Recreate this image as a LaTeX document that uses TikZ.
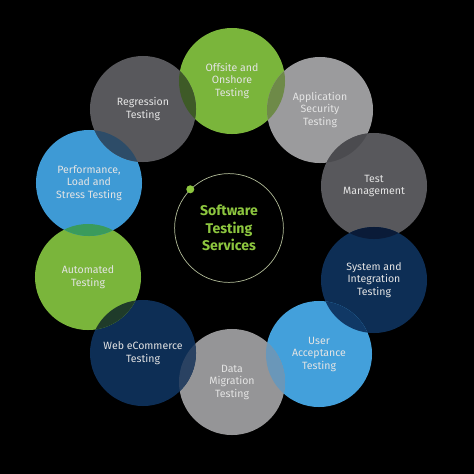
\documentclass[tikz,border=0pt]{standalone}
\usepackage{fontspec}
\setmainfont{Fira Sans}
\usepackage{tikz}
\usepackage{xcolor}

\definecolor{bggreen}{HTML}{7AB53B}
\definecolor{bglight}{HTML}{9B9B9D}
\definecolor{bgmid}{HTML}{959597}
\definecolor{bgdark}{HTML}{58585C}
\definecolor{bgblue}{HTML}{3E9AD5}
\definecolor{bgsky}{HTML}{43A0DB}
\definecolor{bgnavy}{HTML}{0D2E55}
\definecolor{labelgray}{HTML}{E4E4E4}
\definecolor{hubgreen}{HTML}{8DC63F}
\definecolor{hubline}{HTML}{AEB895}
% overlap colours
\definecolor{ovregoff}{HTML}{3E5A27}
\definecolor{ovoffapp}{HTML}{6E8A48}
\definecolor{ovapptm}{HTML}{4B4B4F}
\definecolor{ovtmsys}{HTML}{0A1B38}
\definecolor{ovsysua}{HTML}{103865}
\definecolor{ovuadm}{HTML}{6A97B9}
\definecolor{ovdmweb}{HTML}{2A4262}
\definecolor{ovwebauto}{HTML}{1F3B2A}
\definecolor{ovautoperf}{HTML}{3A9B5C}
\definecolor{ovperfreg}{HTML}{2D4C68}

\begin{document}
\begin{tikzpicture}[x=0.025cm,y=-0.025cm,
    bubble/.style={circle,minimum size=2.65cm,inner sep=0pt,align=center,
      text=labelgray,font=\fontsize{7.5}{8.9}\selectfont}]
        % background
        \fill[black] (0,0) rectangle (474,474);
        % circles
        \node[bubble,fill=bggreen] (off) at (232,81) {Offsite and\\Onshore\\Testing};
        \node[bubble,fill=bglight] (app) at (320,110) {Application\\Security\\Testing};
        \node[bubble,fill=bgdark] (tm) at (374,186) {Test\\Management};
        \node[bubble,fill=bgnavy] (sys) at (374,280) {System and\\Integration\\Testing};
        \node[bubble,fill=bgsky] (ua) at (319,354) {User\\Acceptance\\Testing};
        \node[bubble,fill=bgmid] (dm) at (232,382) {Data\\Migration\\Testing};
        \node[bubble,fill=bgnavy] (web) at (143,353) {Web eCommerce\\Testing};
        \node[bubble,fill=bggreen] (auto) at (88,277) {Automated\\Testing};
        \node[bubble,fill=bgblue] (perf) at (89,183) {Performance,\\Load and\\Stress Testing};
        \node[bubble,fill=bgdark] (reg) at (143,109) {Regression\\Testing};
        % overlaps
        \foreach \a/\b/\c in {reg/off/ovregoff,off/app/ovoffapp,app/tm/ovapptm,
            tm/sys/ovtmsys,sys/ua/ovsysua,ua/dm/ovuadm,dm/web/ovdmweb,
            web/auto/ovwebauto,auto/perf/ovautoperf,perf/reg/ovperfreg}{
          \begin{scope}
            \clip (\a.center) circle[radius=1.325cm];
            \fill[\c] (\b.center) circle[radius=1.325cm];
          \end{scope}
        }
        % hub
        \node[circle,draw=hubline,line width=0.5pt,minimum size=2.72cm,align=center,
          text=hubgreen,font=\fontsize{10}{12.3}\selectfont\bfseries] (hub) at (229,228)
          {Software\\Testing\\Services};
        \fill[hubgreen] (hub.135) circle[radius=0.1cm];
\end{tikzpicture}
\end{document}
